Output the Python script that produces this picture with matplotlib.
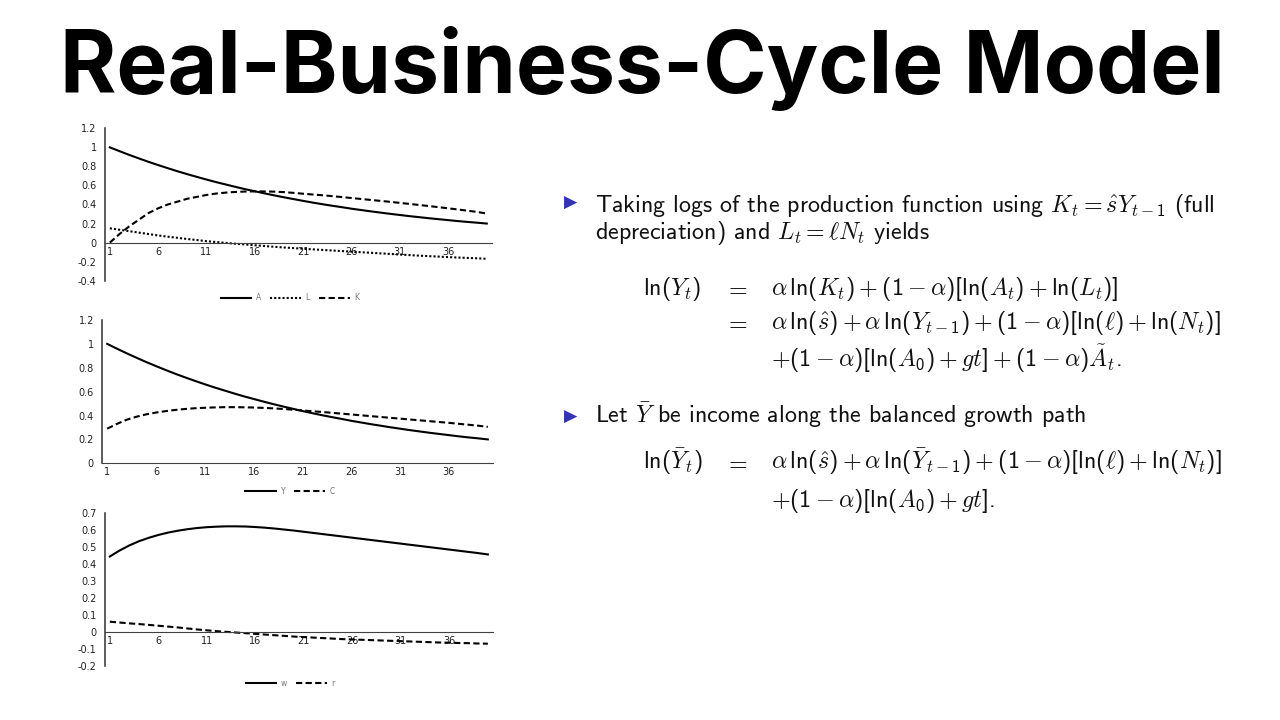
import matplotlib
matplotlib.use('Agg')
import matplotlib.pyplot as plt

plt.rcParams['mathtext.fontset'] = 'custom'
plt.rcParams['mathtext.rm'] = 'cmss10'
plt.rcParams['mathtext.sf'] = 'cmss10'
plt.rcParams['mathtext.it'] = 'cmmi10'
plt.rcParams['mathtext.bf'] = 'cmb10'
plt.rcParams['axes.unicode_minus'] = False

# periods after the shock
periods = list(range(1, 41))
xtick_vals = [1, 6, 11, 16, 21, 26, 31, 36]

# panel 1: technology, labour, capital
A = [1.000, 0.960, 0.921, 0.884, 0.848, 0.814, 0.781, 0.749, 0.719, 0.690,
     0.662, 0.635, 0.610, 0.585, 0.561, 0.539, 0.517, 0.496, 0.476, 0.457,
     0.438, 0.420, 0.403, 0.387, 0.372, 0.356, 0.342, 0.328, 0.315, 0.302,
     0.290, 0.278, 0.267, 0.256, 0.246, 0.236, 0.226, 0.217, 0.209, 0.200]
L = [0.150, 0.135, 0.120, 0.105, 0.090, 0.075, 0.062, 0.050, 0.038, 0.027,
     0.015, 0.006, -0.003, -0.012, -0.020, -0.028, -0.036, -0.044, -0.051, -0.058,
     -0.065, -0.071, -0.077, -0.083, -0.089, -0.095, -0.101, -0.107, -0.113, -0.119,
     -0.125, -0.131, -0.137, -0.142, -0.147, -0.152, -0.157, -0.161, -0.165, -0.170]
K = [0.000, 0.090, 0.170, 0.240, 0.310, 0.360, 0.400, 0.430, 0.460, 0.480,
     0.500, 0.515, 0.525, 0.532, 0.536, 0.538, 0.537, 0.535, 0.530, 0.522,
     0.513, 0.505, 0.497, 0.488, 0.478, 0.468, 0.458, 0.448, 0.438, 0.428,
     0.417, 0.406, 0.395, 0.384, 0.372, 0.360, 0.348, 0.335, 0.322, 0.305]

# panel 2: output, consumption
Y = [1.000, 0.960, 0.921, 0.884, 0.848, 0.814, 0.781, 0.749, 0.719, 0.690,
     0.662, 0.635, 0.610, 0.585, 0.561, 0.539, 0.517, 0.496, 0.476, 0.457,
     0.438, 0.420, 0.403, 0.387, 0.372, 0.356, 0.342, 0.328, 0.315, 0.302,
     0.290, 0.278, 0.267, 0.256, 0.246, 0.236, 0.226, 0.217, 0.209, 0.200]
C = [0.290, 0.330, 0.365, 0.390, 0.410, 0.425, 0.437, 0.447, 0.455, 0.461,
     0.465, 0.468, 0.470, 0.470, 0.469, 0.467, 0.464, 0.460, 0.455, 0.449,
     0.443, 0.436, 0.430, 0.423, 0.416, 0.409, 0.402, 0.395, 0.388, 0.381,
     0.374, 0.367, 0.360, 0.353, 0.346, 0.339, 0.331, 0.323, 0.315, 0.305]

# panel 3: wage, interest rate
w = [0.445, 0.480, 0.510, 0.535, 0.555, 0.572, 0.586, 0.597, 0.606, 0.613,
     0.618, 0.621, 0.623, 0.623, 0.622, 0.619, 0.615, 0.610, 0.604, 0.598,
     0.591, 0.584, 0.577, 0.570, 0.563, 0.556, 0.549, 0.542, 0.535, 0.528,
     0.521, 0.514, 0.507, 0.500, 0.493, 0.486, 0.479, 0.472, 0.465, 0.457]
r = [0.060, 0.055, 0.050, 0.046, 0.041, 0.036, 0.031, 0.026, 0.020, 0.014,
     0.009, 0.004, 0.000, -0.004, -0.008, -0.012, -0.016, -0.020, -0.024, -0.028,
     -0.031, -0.034, -0.037, -0.040, -0.043, -0.045, -0.047, -0.049, -0.051, -0.053,
     -0.055, -0.057, -0.059, -0.061, -0.063, -0.064, -0.066, -0.067, -0.069, -0.070]

W, H = 1280, 720
fig = plt.figure(figsize=(12.8, 7.2), dpi=100)
fig.patch.set_facecolor('white')

SOLID = '-'
DOT = (0, (1, 1))
DASH = (0, (3, 1.6))


def px_axes(left, top, right, bottom):
    return fig.add_axes([left / W, 1 - bottom / H, (right - left) / W, (bottom - top) / H])


def panel(box, ylim, yticks, ylabels, series, leg_xy):
    ax = px_axes(*box)
    for vals, ls, lab in series:
        ax.plot(periods, vals, color='black', lw=1.5, ls=ls, label=lab)
    ax.set_xlim(0.5, 40.5)
    ax.set_ylim(*ylim)
    ax.set_yticks(yticks)
    ax.set_yticklabels(ylabels)
    ax.set_xticks(xtick_vals)
    for s in ['top', 'right']:
        ax.spines[s].set_visible(False)
    ax.spines['bottom'].set_position(('data', 0))
    ax.spines['bottom'].set_color('#404040')
    ax.spines['left'].set_color('#303030')
    ax.spines['left'].set_linewidth(1.1)
    ax.tick_params(length=0, labelsize=7, colors='#222222')
    ax.tick_params(axis='y', pad=6)
    ax.tick_params(axis='x', pad=3)
    ax.patch.set_alpha(0)
    ax.legend(loc='center', bbox_to_anchor=(leg_xy[0] / W, 1 - leg_xy[1] / H),
              bbox_transform=fig.transFigure, ncol=len(series), frameon=False,
              fontsize=5.5, handlelength=4.0, columnspacing=1.2, handletextpad=0.6,
              labelcolor='#777777')
    return ax


panel((105, 128.3, 491.6, 280.7), (-0.4, 1.2),
      [1.2, 1, 0.8, 0.6, 0.4, 0.2, 0, -0.2, -0.4],
      ['1.2', '1', '0.8', '0.6', '0.4', '0.2', '0', '-0.2', '-0.4'],
      [(A, SOLID, 'A'), (L, DOT, 'L'), (K, DASH, 'K')], (290, 297.7))

panel((102.3, 320, 492.7, 463.3), (0, 1.2),
      [1.2, 1, 0.8, 0.6, 0.4, 0.2, 0],
      ['1.2', '1', '0.8', '0.6', '0.4', '0.2', '0'],
      [(Y, SOLID, 'Y'), (C, DASH, 'C')], (290, 491))

panel((105, 513.3, 492.7, 665.7), (-0.2, 0.7),
      [0.7, 0.6, 0.5, 0.4, 0.3, 0.2, 0.1, 0, -0.1, -0.2],
      ['0.7', '0.6', '0.5', '0.4', '0.3', '0.2', '0.1', '0', '-0.1', '-0.2'],
      [(w, SOLID, 'w'), (r, DASH, 'r')], (290, 683.3))

# title, sized to span the slide width
title = fig.text(642.5 / W, 1 - 93 / H, 'Real-Business-Cycle Model', ha='center',
                 va='baseline', fontsize=60, fontweight='bold', family='Inter',
                 color='black')
rend = fig.canvas.get_renderer()
tw = title.get_window_extent(rend).width
title.set_fontsize(60 * 1165 / tw)


def txt(x, y, s, **kw):
    fig.text(x / W, 1 - y / H, s, va='baseline', fontsize=17.3, family='cmss10',
             color='#111111', **kw)


def bullet(x, y):
    fig.text(x / W, 1 - y / H, '\u25B6', ha='center', va='center', fontsize=12.5,
             family='DejaVu Sans', color='#3333b3')


bullet(571, 203)
txt(595, 212, r'Taking logs of the production function using $K_t = \hat{s}Y_{t-1}$ (full')
txt(595, 239, r'depreciation) and $L_t = \ell N_t$ yields')

txt(643, 295, r'$\ln(Y_t)$')
txt(736, 295, r'$=$', ha='center')
txt(771, 295, r'$\alpha\,\ln(K_t) + (1-\alpha)[\ln(A_t) + \ln(L_t)]$')
txt(736, 329, r'$=$', ha='center')
txt(771, 329, r'$\alpha\,\ln(\hat{s}) + \alpha\,\ln(Y_{t-1}) + (1-\alpha)[\ln(\ell) + \ln(N_t)]$')
txt(771, 367, r'$+(1-\alpha)[\ln(A_0) + gt] + (1-\alpha)\tilde{A}_t.$')

bullet(571, 417)
txt(595, 423, r'Let $\bar{Y}$ be income along the balanced growth path')
txt(643, 469, r'$\ln(\bar{Y}_t)$')
txt(736, 469, r'$=$', ha='center')
txt(771, 469, r'$\alpha\,\ln(\hat{s}) + \alpha\,\ln(\bar{Y}_{t-1}) + (1-\alpha)[\ln(\ell) + \ln(N_t)]$')
txt(771, 507, r'$+(1-\alpha)[\ln(A_0) + gt].$')

fig.savefig('out.png', dpi=100, facecolor='white')
